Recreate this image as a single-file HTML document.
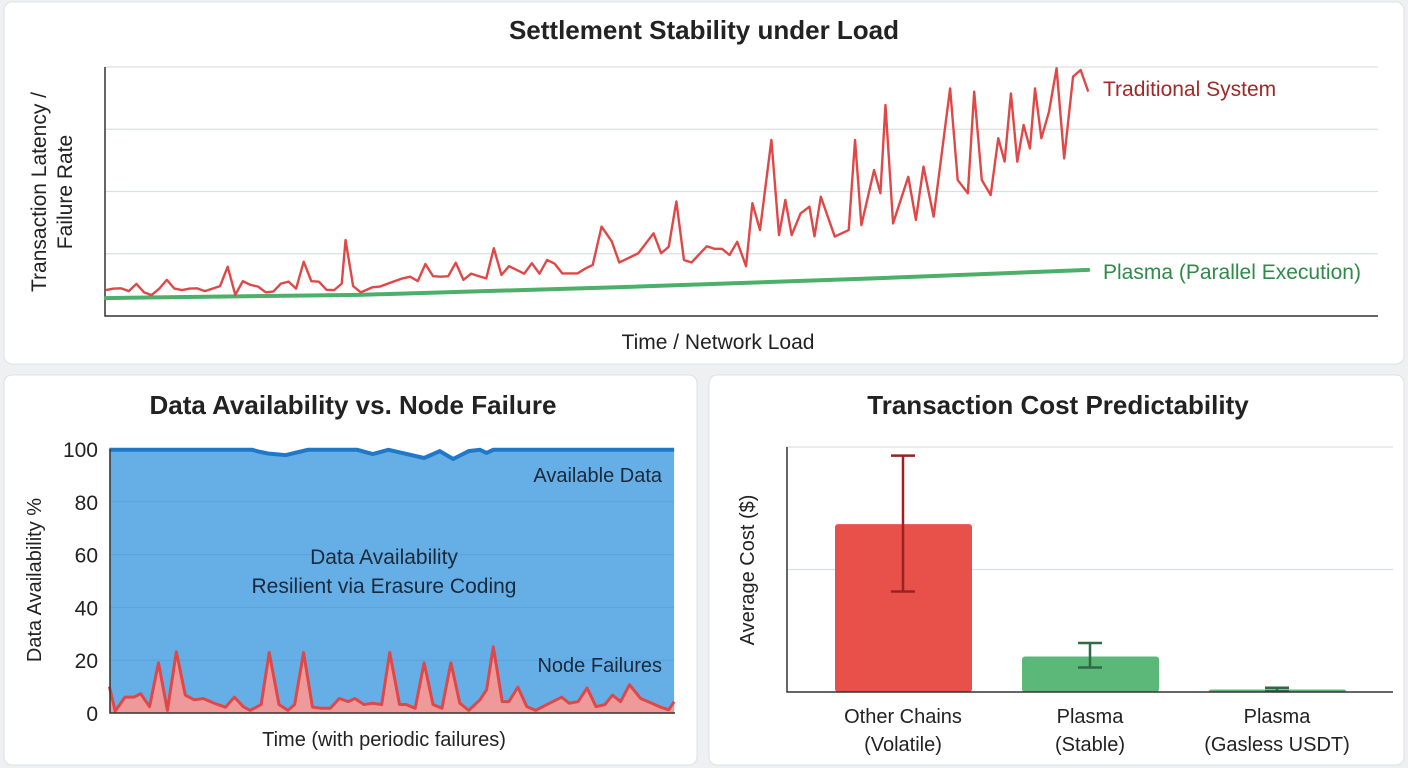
<!DOCTYPE html>
<html><head><meta charset="utf-8">
<style>
html,body{margin:0;padding:0;background:#eef0f2;width:1408px;height:768px;overflow:hidden;font-family:"Liberation Sans",sans-serif;}
svg text{font-family:"Liberation Sans",sans-serif;}
.ttl{font-weight:bold;}
</style></head>
<body>
<svg id="c" width="1408" height="768" xmlns="http://www.w3.org/2000/svg">
<rect x="4" y="2" width="1400" height="362" rx="8" fill="#fff" stroke="#dde1e5"/>
<rect x="4" y="375" width="693" height="390" rx="8" fill="#fff" stroke="#dde1e5"/>
<rect x="709" y="375" width="695" height="390" rx="8" fill="#fff" stroke="#dde1e5"/>
<text class="ttl" x="704" y="39" text-anchor="middle" font-size="26" fill="#222">Settlement Stability under Load</text>
<text x="718" y="349" text-anchor="middle" font-size="21" fill="#222">Time / Network Load</text>
<text transform="translate(52,192) rotate(-90)" text-anchor="middle" font-size="21" fill="#222"><tspan x="0" dy="-6">Transaction Latency /</tspan><tspan x="0" dy="26">Failure Rate</tspan></text>
<text class="ttl" x="353" y="414" text-anchor="middle" font-size="26" fill="#222">Data Availability vs. Node Failure</text>
<text x="384" y="746" text-anchor="middle" font-size="20" fill="#222">Time (with periodic failures)</text>
<text transform="translate(41,580) rotate(-90)" text-anchor="middle" font-size="20" fill="#222">Data Availability %</text>
<text class="ttl" x="1058" y="414" text-anchor="middle" font-size="26" fill="#222">Transaction Cost Predictability</text>
<text transform="translate(754,570) rotate(-90)" text-anchor="middle" font-size="20" fill="#222">Average Cost ($)</text>
<g id="g1"></g><g id="g2"></g><g id="g3"></g>
</svg>
<script>
// ---- Chart 1 data ----
const tradTime=[0,12,24,36,48,60,72,84,96,108,120,132,144,156,168,180,192,204,216,228,240,252,264,276,288,300,312,324,336,348,360,372,378,390,402,420,432,450,468,480,492,504,516,528,540,552,564,576,588,600,612,624,636,660,672,684,696,708,720,744,756,768,782,798,810,840,864,876,888,900,912,924,948,960,972,984,996,1010,1020,1032,1050,1062,1072,1082,1096,1110,1118,1128,1150,1172,1182,1192,1212,1222,1230,1242,1266,1278,1290,1306,1332,1344,1360,1370,1382,1396,1408,1418,1428,1438,1448,1458,1466,1476,1488,1500,1512,1526,1538,1550];
const tradLatency=[10.4,11,11.1,10,12.9,9.5,8.4,11,14.5,11,10.4,11,11.1,10,11,12,19.8,8.5,14,12.5,11.8,9.5,9.8,13,13.8,11,21.8,14,13.8,10.5,10.4,13,30.5,12,9.5,11.5,11.8,13.5,15.1,15.8,14,20.9,16,15.8,16,21.4,14.5,17,16,15.1,27.2,16.5,20,17,21.2,17,22.5,21,17.1,17.1,19,20.5,35.9,30,21.5,25.2,33.2,25.2,27.8,46,22.5,21.5,28,27,27,24.5,29.8,20,45.3,34.5,70.7,32.5,46.6,32.5,41.2,43.9,32,47.9,31.9,34.5,70.7,36.5,58.6,49.3,84.7,37.2,55.9,38.6,60,39.9,91.4,54.6,49.3,90.1,54.6,48.6,71.4,62,89.4,62,76.7,67.3,91.4,71.4,82,99.5,63.3,96.1,98.8,90.1];
const plasmaTime=[0,400,800,1200,1550];
const plasmaLatency=[7.2,8.5,11.5,15,18.5];
const yTicks1=[0,25,50,75,100];
// ---- Chart 2 data ----
const availTime=[245,565,580,600,640,690,800,835,870,950,985,1015,1050,1075,1090,1105,1510];
const availValue=[99.7,99.7,99,98.3,97.7,99.7,99.7,98.1,99.7,96.6,99.2,96.2,99.2,99.7,98.5,99.7,99.7];
const failTime=[245,258,280,300,315,335,355,375,395,415,435,455,480,505,525,545,560,585,603,625,645,660,680,700,720,740,760,780,795,815,835,855,873,895,910,930,950,970,990,1010,1030,1050,1075,1090,1105,1125,1140,1160,1180,1200,1225,1258,1275,1295,1315,1335,1355,1372,1390,1410,1435,1460,1480,1498,1510];
const failValue=[10,0.7,6,6,7.3,2.4,19,1,23.2,6.8,5,5.5,3.7,2.2,6,2.4,1,3.2,22.9,3.2,1,3.2,22.9,2.2,1.8,1.8,5.5,4.3,5.5,3.2,3.7,3.2,22.9,3.2,3.2,1.8,19,3.2,1.8,19,3.7,1,5,8.8,25.1,4.3,4.3,9.8,2.4,1,3.2,6,3.7,4.3,9.5,2.4,3.2,6.8,4.3,10.7,5.5,3.7,2.2,1.2,4.3];
const yTicks2=[0,20,40,60,80,100];
// ---- Chart 3 data ----
const costCats=[["Other Chains","(Volatile)"],["Plasma","(Stable)"],["Plasma","(Gasless USDT)"]];
const costMean=[1.37,0.29,0.02];
const costLow=[0.82,0.20,0.01];
const costHigh=[1.93,0.40,0.035];
const yTicks3=[0,1,2];

const NS="http://www.w3.org/2000/svg";
function mk(parent,tag,attrs){const e=document.createElementNS(NS,tag);for(const k in attrs)e.setAttribute(k,attrs[k]);parent.appendChild(e);return e;}

// Chart 1
const g1=document.getElementById('g1');
const x1=t=>106+t/1.578, y1=v=>316-v*2.49;
yTicks1.forEach(v=>{if(v>0){const l=mk(g1,'line',{x1:105,x2:1378,y1:y1(v),y2:y1(v),stroke:'#dcdfe2','stroke-width':1.2});

}});
let ax=mk(g1,'path',{d:'M105,67 V316 H1378',fill:'none',stroke:'#333','stroke-width':1.5});


let gp=mk(g1,'path',{d:plasmaTime.map((t,i)=>(i?'L':'M')+x1(t)+','+y1(plasmaLatency[i])).join(''),fill:'none',stroke:'#4caf6a','stroke-width':4,'stroke-linecap':'round'});


let rp=mk(g1,'path',{d:tradTime.map((t,i)=>(i?'L':'M')+x1(t)+','+y1(tradLatency[i])).join(''),fill:'none',stroke:'#e04848','stroke-width':2.4,'stroke-linejoin':'round'});


let l1=mk(g1,'text',{x:1103,y:96,'font-size':21,fill:'#a02828'});l1.textContent='Traditional System';


let l2=mk(g1,'text',{x:1103,y:279,'font-size':21,fill:'#2e8a48'});l2.textContent='Plasma (Parallel Execution)';



// Chart 2
const g2=document.getElementById('g2');
const x2=t=>t/2.24, y2=v=>713-v*2.64;
let area=mk(g2,'path',{d:availTime.map((t,i)=>(i?'L':'M')+x2(t)+','+y2(availValue[i])).join('')+'L'+x2(1510)+','+y2(0)+'L'+x2(245)+','+y2(0)+'Z',fill:'#66aee6'});


yTicks2.forEach(v=>{if(v>0&&v<100){const l=mk(g2,'line',{x1:110,x2:674,y1:y2(v),y2:y2(v),stroke:'#5aa2da','stroke-width':1});

}
const t=mk(g2,'text',{x:98,y:y2(v)+8,'text-anchor':'end','font-size':21,fill:'#222'});t.textContent=v;

});
let at=mk(g2,'path',{d:availTime.map((t,i)=>(i?'L':'M')+x2(t)+','+y2(availValue[i])).join(''),fill:'none',stroke:'#1f78c8','stroke-width':4});


let fa=mk(g2,'path',{d:failTime.map((t,i)=>(i?'L':'M')+x2(t)+','+y2(failValue[i])).join('')+'L'+x2(1510)+','+y2(0)+'L'+x2(245)+','+y2(0)+'Z',fill:'#ee9a9a'});


let fl=mk(g2,'path',{d:failTime.map((t,i)=>(i?'L':'M')+x2(t)+','+y2(failValue[i])).join(''),fill:'none',stroke:'#e04848','stroke-width':3,'stroke-linejoin':'round'});


let ax2=mk(g2,'path',{d:'M110,449 V713 H675',fill:'none',stroke:'#333','stroke-width':1.5});


[['Available Data',662,482,'available-label'],['Node Failures',662,672,'failures-label']].forEach(a=>{const t=mk(g2,'text',{x:a[1],y:a[2],'text-anchor':'end','font-size':20,fill:'#1a2a3a'});t.textContent=a[0];

});
let ct=mk(g2,'text',{x:384,y:564,'text-anchor':'middle','font-size':21,fill:'#1a2a3a'});ct.textContent='Data Availability';


let ct2=mk(g2,'text',{x:384,y:593,'text-anchor':'middle','font-size':21,fill:'#1a2a3a'});ct2.textContent='Resilient via Erasure Coding';



// Chart 3
const g3=document.getElementById('g3');
const y3=v=>692-v*122.5, xc=i=>903+i*187;
yTicks3.forEach(v=>{if(v>0){const l=mk(g3,'line',{x1:787,x2:1393,y1:y3(v),y2:y3(v),stroke:'#dcdfe2','stroke-width':1.2});

}});
costMean.forEach((m,i)=>{
const fillc=i===0?'#e8504a':'#5bb878', errc=i===0?'#9a2222':'#2e6a44';
const b=mk(g3,'rect',{x:xc(i)-68,y:y3(m),width:137,height:y3(0)-y3(m),rx:3,fill:fillc});


const e=mk(g3,'path',{d:`M${xc(i)},${y3(costHigh[i])}V${y3(costLow[i])}M${xc(i)-12},${y3(costHigh[i])}h24M${xc(i)-12},${y3(costLow[i])}h24`,stroke:errc,'stroke-width':2.5,fill:'none'});


costCats[i].forEach((s,j)=>{const t=mk(g3,'text',{x:xc(i),y:723+j*28,'text-anchor':'middle','font-size':20,fill:'#222'});t.textContent=s;

});
});
let ax3=mk(g3,'path',{d:'M787,447 V692 H1393',fill:'none',stroke:'#333','stroke-width':1.5});


</script>
</body></html>
